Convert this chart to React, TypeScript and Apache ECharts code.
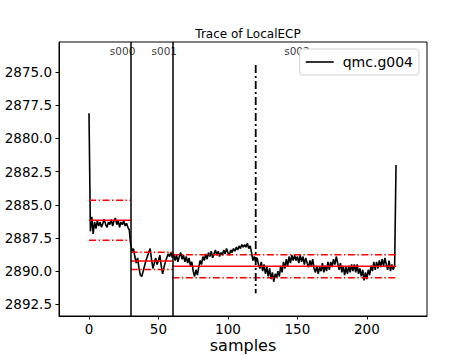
import React, { useEffect, useRef } from "react";
import * as echarts from "echarts";

const seg0 = [
  2878.1, 2887.0, 2885.9, 2887.2, 2886.3, 2886.8, 2886.2, 2886.6, 2886.3, 2886.7,
  2886.4, 2886.1, 2886.5, 2886.7, 2886.3, 2886.5, 2886.1, 2886.6, 2886.2, 2886.0,
  2886.5, 2886.2, 2886.7, 2886.3, 2886.5, 2886.2, 2886.6, 2886.4, 2886.7, 2886.9,
];
const seg1 = [
  2888.0, 2888.5, 2888.3, 2888.9, 2889.4, 2889.0, 2889.8, 2890.3, 2890.4, 2890.0,
  2889.6, 2889.2, 2888.9, 2888.6, 2888.3, 2889.1, 2889.8, 2889.4, 2889.0, 2889.5,
  2889.2, 2888.8, 2889.6, 2890.2, 2889.7, 2889.3, 2889.0, 2888.7, 2888.9, 2888.6,
];
const seg2 = [
  2889.0, 2888.7, 2889.2, 2888.8, 2889.3, 2888.9, 2888.6, 2889.1, 2888.8, 2889.3, 2888.9, 2889.4, 2889.0,
  2889.6, 2889.3, 2890.0, 2890.4, 2889.9, 2890.3, 2889.7, 2889.2,
  2889.5, 2888.9, 2889.2, 2888.7, 2889.1, 2888.6, 2888.9, 2888.5, 2889.0, 2888.7, 2888.4, 2888.8, 2888.5, 2888.9, 2888.6,
  2888.8, 2888.4, 2888.7, 2888.3, 2888.6, 2888.8, 2888.4, 2888.6, 2888.3, 2888.5, 2888.2, 2888.4, 2888.1, 2888.3, 2888.0, 2888.2, 2888.0,
  2888.2, 2887.9, 2888.3, 2888.1, 2888.6, 2889.2, 2888.9,
  2889.3, 2889.0, 2889.5, 2889.8, 2889.3, 2890.0, 2889.5, 2890.2, 2889.7, 2890.4, 2889.8, 2890.6, 2890.1, 2890.8, 2890.2, 2890.5,
  2890.0, 2890.4, 2889.6, 2890.1, 2889.3, 2889.8, 2889.1, 2889.6, 2888.9, 2889.4, 2888.8, 2889.2,
  2888.8, 2889.2, 2888.9, 2889.4, 2888.8, 2889.3, 2888.9, 2889.5, 2889.0, 2889.4, 2889.7, 2889.2, 2889.6, 2889.1, 2889.8, 2890.1,
  2889.6, 2890.2, 2889.7, 2890.0, 2889.4, 2890.1, 2889.6, 2890.0, 2889.3, 2889.9, 2889.3, 2889.7, 2889.1, 2889.5,
  2888.9, 2889.4, 2889.9, 2889.4, 2890.1, 2889.6, 2890.3, 2889.7, 2890.2, 2889.6, 2890.1, 2889.5, 2890.0,
  2889.5, 2890.1, 2889.5, 2890.2, 2889.8, 2890.4, 2889.9, 2890.7, 2890.1, 2890.6, 2889.9, 2890.3, 2889.6, 2890.0, 2889.3,
  2889.9, 2889.3, 2889.8, 2889.2, 2889.7, 2889.1, 2889.6, 2889.0, 2889.5, 2889.9, 2889.2, 2890.0, 2889.5, 2889.9, 2889.6,
  2882.0,
];
const traceValues = [...seg0, ...seg1, ...seg2];

const segLabels = ["s000", "s001", "s002"];
const segStarts = [0, 30, 60];
const segEnds = [30, 60, 221];
const segMeans = [2886.17, 2889.23, 2889.63];
const segErrs = [1.5, 0.65, 0.87];
const boundaryX = [30, 60];
const equilX = 120;
const equilRange = [2874.47, 2891.67];
const labelY = 2873.45;

const xTicks = [0, 50, 100, 150, 200];
const yTicks = [2875, 2877.5, 2880, 2882.5, 2885, 2887.5, 2890, 2892.5];

const FONT = "DejaVu Sans";
const DASHDOT = [7, 2.5, 1.5, 2.5];

export default function App() {
  const ref = useRef<HTMLDivElement>(null);
  useEffect(() => {
    if (!ref.current) return;
    const chart = echarts.init(ref.current, null, { renderer: "svg" });
    const series: any[] = [];
    series.push({
      name: "qmc.g004",
      type: "line",
      data: traceValues.map((v, i) => [i, v]),
      symbol: "none",
      lineStyle: { color: "#000", width: 1.6 },
      itemStyle: { color: "#000" },
      z: 2,
      markLine: {
        silent: true,
        symbol: ["none", "none"],
        label: { show: false },
        lineStyle: { color: "#000", width: 1.5, type: "solid" },
        data: boundaryX.map((x) => ({ xAxis: x })),
      },
    });
    segMeans.forEach((m, k) => {
      const e = segErrs[k];
      [
        { y: m, type: "solid" as any },
        { y: m - e, type: DASHDOT },
        { y: m + e, type: DASHDOT },
      ].forEach((l) => {
        series.push({
          type: "line",
          data: [
            [segStarts[k], l.y],
            [segEnds[k], l.y],
          ],
          symbol: "none",
          silent: true,
          z: 3,
          lineStyle: { color: "#ff0000", width: 1.5, type: l.type },
        });
      });
    });
    series.push({
      type: "line",
      data: [
        [equilX, equilRange[0]],
        [equilX, equilRange[1]],
      ],
      symbol: "none",
      silent: true,
      z: 3,
      lineStyle: { color: "#000", width: 1.8, type: [8, 3, 2, 3] },
    });
    series.push({
      type: "scatter",
      symbolSize: 0,
      silent: true,
      z: 1,
      data: segLabels.map((s, k) => ({
        value: [(segStarts[k] + segEnds[k]) / 2, labelY],
        name: s,
      })),
      label: {
        show: true,
        position: "right",
        distance: 0,
        formatter: (p: any) => p.name,
        fontFamily: FONT,
        fontSize: 10.5,
        color: "#000",
      },
    });

    chart.setOption({
      animation: false,
      backgroundColor: "#fff",
      title: {
        text: "Trace of LocalECP",
        left: 243,
        top: 23,
        textAlign: "center",
        textStyle: { fontFamily: FONT, fontSize: 12, fontWeight: "normal", color: "#000" },
      },
      legend: {
        data: [{ name: "qmc.g004", icon: "rect" }],
        right: 55,
        top: 49,
        itemWidth: 28,
        itemHeight: 1.6,
        itemGap: 10,
        padding: [6, 6, 6, 6],
        borderColor: "#d0d0d0",
        borderWidth: 1,
        borderRadius: 3,
        backgroundColor: "#fff",
        textStyle: { fontFamily: FONT, fontSize: 14, color: "#000", padding: [0, 0, 0, 4] },
      },
      grid: {
        left: 59,
        right: 47,
        top: 42,
        bottom: 39,
        outerBoundsMode: "none",
        show: true,
        borderColor: "#000",
        borderWidth: 1,
        backgroundColor: "transparent",
      },
      xAxis: {
        type: "value",
        min: -21.6,
        max: 243.3,
        name: "samples",
        nameLocation: "middle",
        nameGap: 21,
        nameMoveOverlap: false,
        nameTextStyle: { fontFamily: FONT, fontSize: 16, color: "#000" },
        splitLine: { show: false },
        axisLine: { show: true, onZero: false, lineStyle: { color: "#000", width: 1 } },
        axisTick: { show: true, length: 3.5, customValues: xTicks, lineStyle: { color: "#000" } },
        axisLabel: {
          customValues: xTicks,
          margin: 6,
          fontFamily: FONT,
          fontSize: 13.5,
          color: "#000",
        },
      },
      yAxis: {
        type: "value",
        inverse: true,
        min: 2872.74,
        max: 2893.38,
        splitLine: { show: false },
        axisLine: { show: true, onZero: false, lineStyle: { color: "#000", width: 1 } },
        axisTick: { show: true, length: 3.5, customValues: yTicks, lineStyle: { color: "#000" } },
        axisLabel: {
          customValues: yTicks,
          margin: 7,
          fontFamily: FONT,
          fontSize: 13.5,
          color: "#000",
          formatter: (v: number) => v.toFixed(1),
        },
      },
      series,
    });
    return () => chart.dispose();
  }, []);
  return (
    <div
      ref={ref}
      style={{ position: "fixed", left: 0, top: 0, width: 474, height: 355 }}
    />
  );
}
